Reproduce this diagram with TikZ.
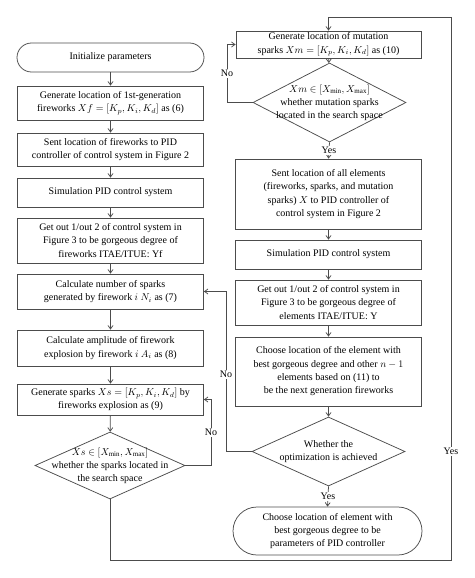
\documentclass[tikz,border=0pt]{standalone}
\usepackage{fontspec}
\setmainfont{Liberation Serif}
\usetikzlibrary{shapes.geometric,arrows.meta}
\begin{document}
\begin{tikzpicture}[x=1pt,y=-1pt,
  every node/.style={font=\fontsize{10}{13.3}\selectfont, text=black},
  line/.style={draw=black!70, line width=0.75pt},
  arr/.style={line, -{Straight Barb[length=3.5pt,width=5pt]}},
  box/.style={draw=black!70, line width=0.75pt, rectangle, align=center, inner sep=1pt},
  term/.style={box},
  dia/.style={draw=black!70, line width=0.75pt, diamond, inner sep=0pt},
  lab/.style={fill=white, inner sep=1pt}]
\useasboundingbox (0,0) rectangle (474,578);
% left column
\node[term, rounded corners=14.5pt, minimum width=187, minimum height=29] (init) at (110.5,57.5) {Initialize parameters};
\node[box, minimum width=186, minimum height=34] (gen1) at (110.5,103) {Generate location of 1st-generation\\fireworks $Xf=[K_p,K_i,K_d]$ as (6)};
\node[box, minimum width=186, minimum height=33] (sent) at (110.5,149.5) {Sent location of fireworks to PID\\controller of control system in Figure 2};
\node[box, minimum width=186, minimum height=29] (sim) at (110.5,192.5) {Simulation PID control system};
\node[box, minimum width=186, minimum height=45] (get) at (110.5,240.5) {Get out 1/out 2 of control system in\\Figure 3 to be gorgeous degree of\\fireworks ITAE/ITUE: Yf};
\node[box, minimum width=186, minimum height=35] (calcN) at (110.5,291.5) {Calculate number of sparks\\generated by firework $i$ $N_i$ as (7)};
\node[box, minimum width=186, minimum height=36] (calcA) at (110.5,348) {Calculate amplitude of firework\\explosion by firework $i$ $A_i$ as (8)};
\node[box, minimum width=186, minimum height=31] (genS) at (110.5,399.5) {Generate sparks $Xs=[K_p,K_i,K_d]$ by\\fireworks explosion as (9)};
\node[dia, minimum width=150, minimum height=67] (d1) at (110,465.5) {};
\node[align=center] (d1t) at (110,466) {$Xs\in[X_{\min},X_{\max}]$\\whether the sparks located in\\the search space};
% right column
\node[box, minimum width=185, minimum height=27] (mut) at (328.5,44.5) {Generate location of mutation\\sparks $Xm=[K_p,K_i,K_d]$ as (10)};
\node[dia, minimum width=153, minimum height=79] (d2) at (329.5,102.5) {};
\node[align=center] (d2t) at (329.5,103) {$Xm\in[X_{\min},X_{\max}]$\\whether mutation sparks\\located in the search space};
\node[box, minimum width=186, minimum height=70] (sent2) at (328.5,194) {Sent location of all elements\\(fireworks, sparks, and mutation\\sparks) $X$ to PID controller of\\control system in Figure 2};
\node[box, minimum width=186, minimum height=29] (sim2) at (328.5,254.5) {Simulation PID control system};
\node[box, minimum width=186, minimum height=45] (get2) at (328.5,302.5) {Get out 1/out 2 of control system in\\Figure 3 to be gorgeous degree of\\elements ITAE/ITUE: Y};
\node[box, minimum width=186, minimum height=69] (choose) at (328.5,371.5) {Choose location of the element with\\best gorgeous degree and other $n-1$\\elements based on (11) to\\be the next generation fireworks};
\node[dia, minimum width=153, minimum height=69] (d3) at (328.5,451.5) {};
\node[align=center] (d3t) at (328.5,451.5) {Whether the\\optimization is achieved};
\node[term, rounded corners=24pt, minimum width=189, minimum height=48] (fin) at (327.5,531) {Choose location of element with\\best gorgeous degree to be\\parameters of PID controller};
\coordinate (c1) at (211,0);
\coordinate (c2) at (451,560);
\coordinate (c3) at (329,17);
\coordinate (c4) at (227,0);
\coordinate (c5) at (226,0);
% left arrows
\draw[arr] (init) -- (gen1);
\draw[arr] (gen1) -- (sent);
\draw[arr] (sent) -- (sim);
\draw[arr] (sim) -- (get);
\draw[arr] (get) -- (calcN);
\draw[arr] (calcN) -- (calcA);
\draw[arr] (calcA) -- (genS);
\draw[arr] (genS) -- (d1);
\draw[arr] (d1.east) -- (d1.east -| c1) -- node[lab]{No} (genS.east -| c1) -- (genS.east);
\draw[arr] (d1.south) |- (c2) -- node[lab, pos=0.2]{Yes} (c2 |- c3) -| (mut.north);
% right arrows
\draw[arr] (mut) -- (d2);
\draw[arr] (d2.west) -- (d2.west -| c4) -- node[lab]{No} (mut.west -| c4) -- (mut.west);
\draw[arr] (d2.south) -- node[lab]{Yes} (sent2.north);
\draw[arr] (sent2) -- (sim2);
\draw[arr] (sim2) -- (get2);
\draw[arr] (get2) -- (choose);
\draw[arr] (choose) -- (d3);
\draw[arr] (d3.south) -- node[lab]{Yes} (fin.north);
\draw[arr] (d3.west) -- (d3.west -| c5) -- node[lab, pos=0.48]{No} (calcN.east -| c5) -- (calcN.east);
\end{tikzpicture}
\end{document}
